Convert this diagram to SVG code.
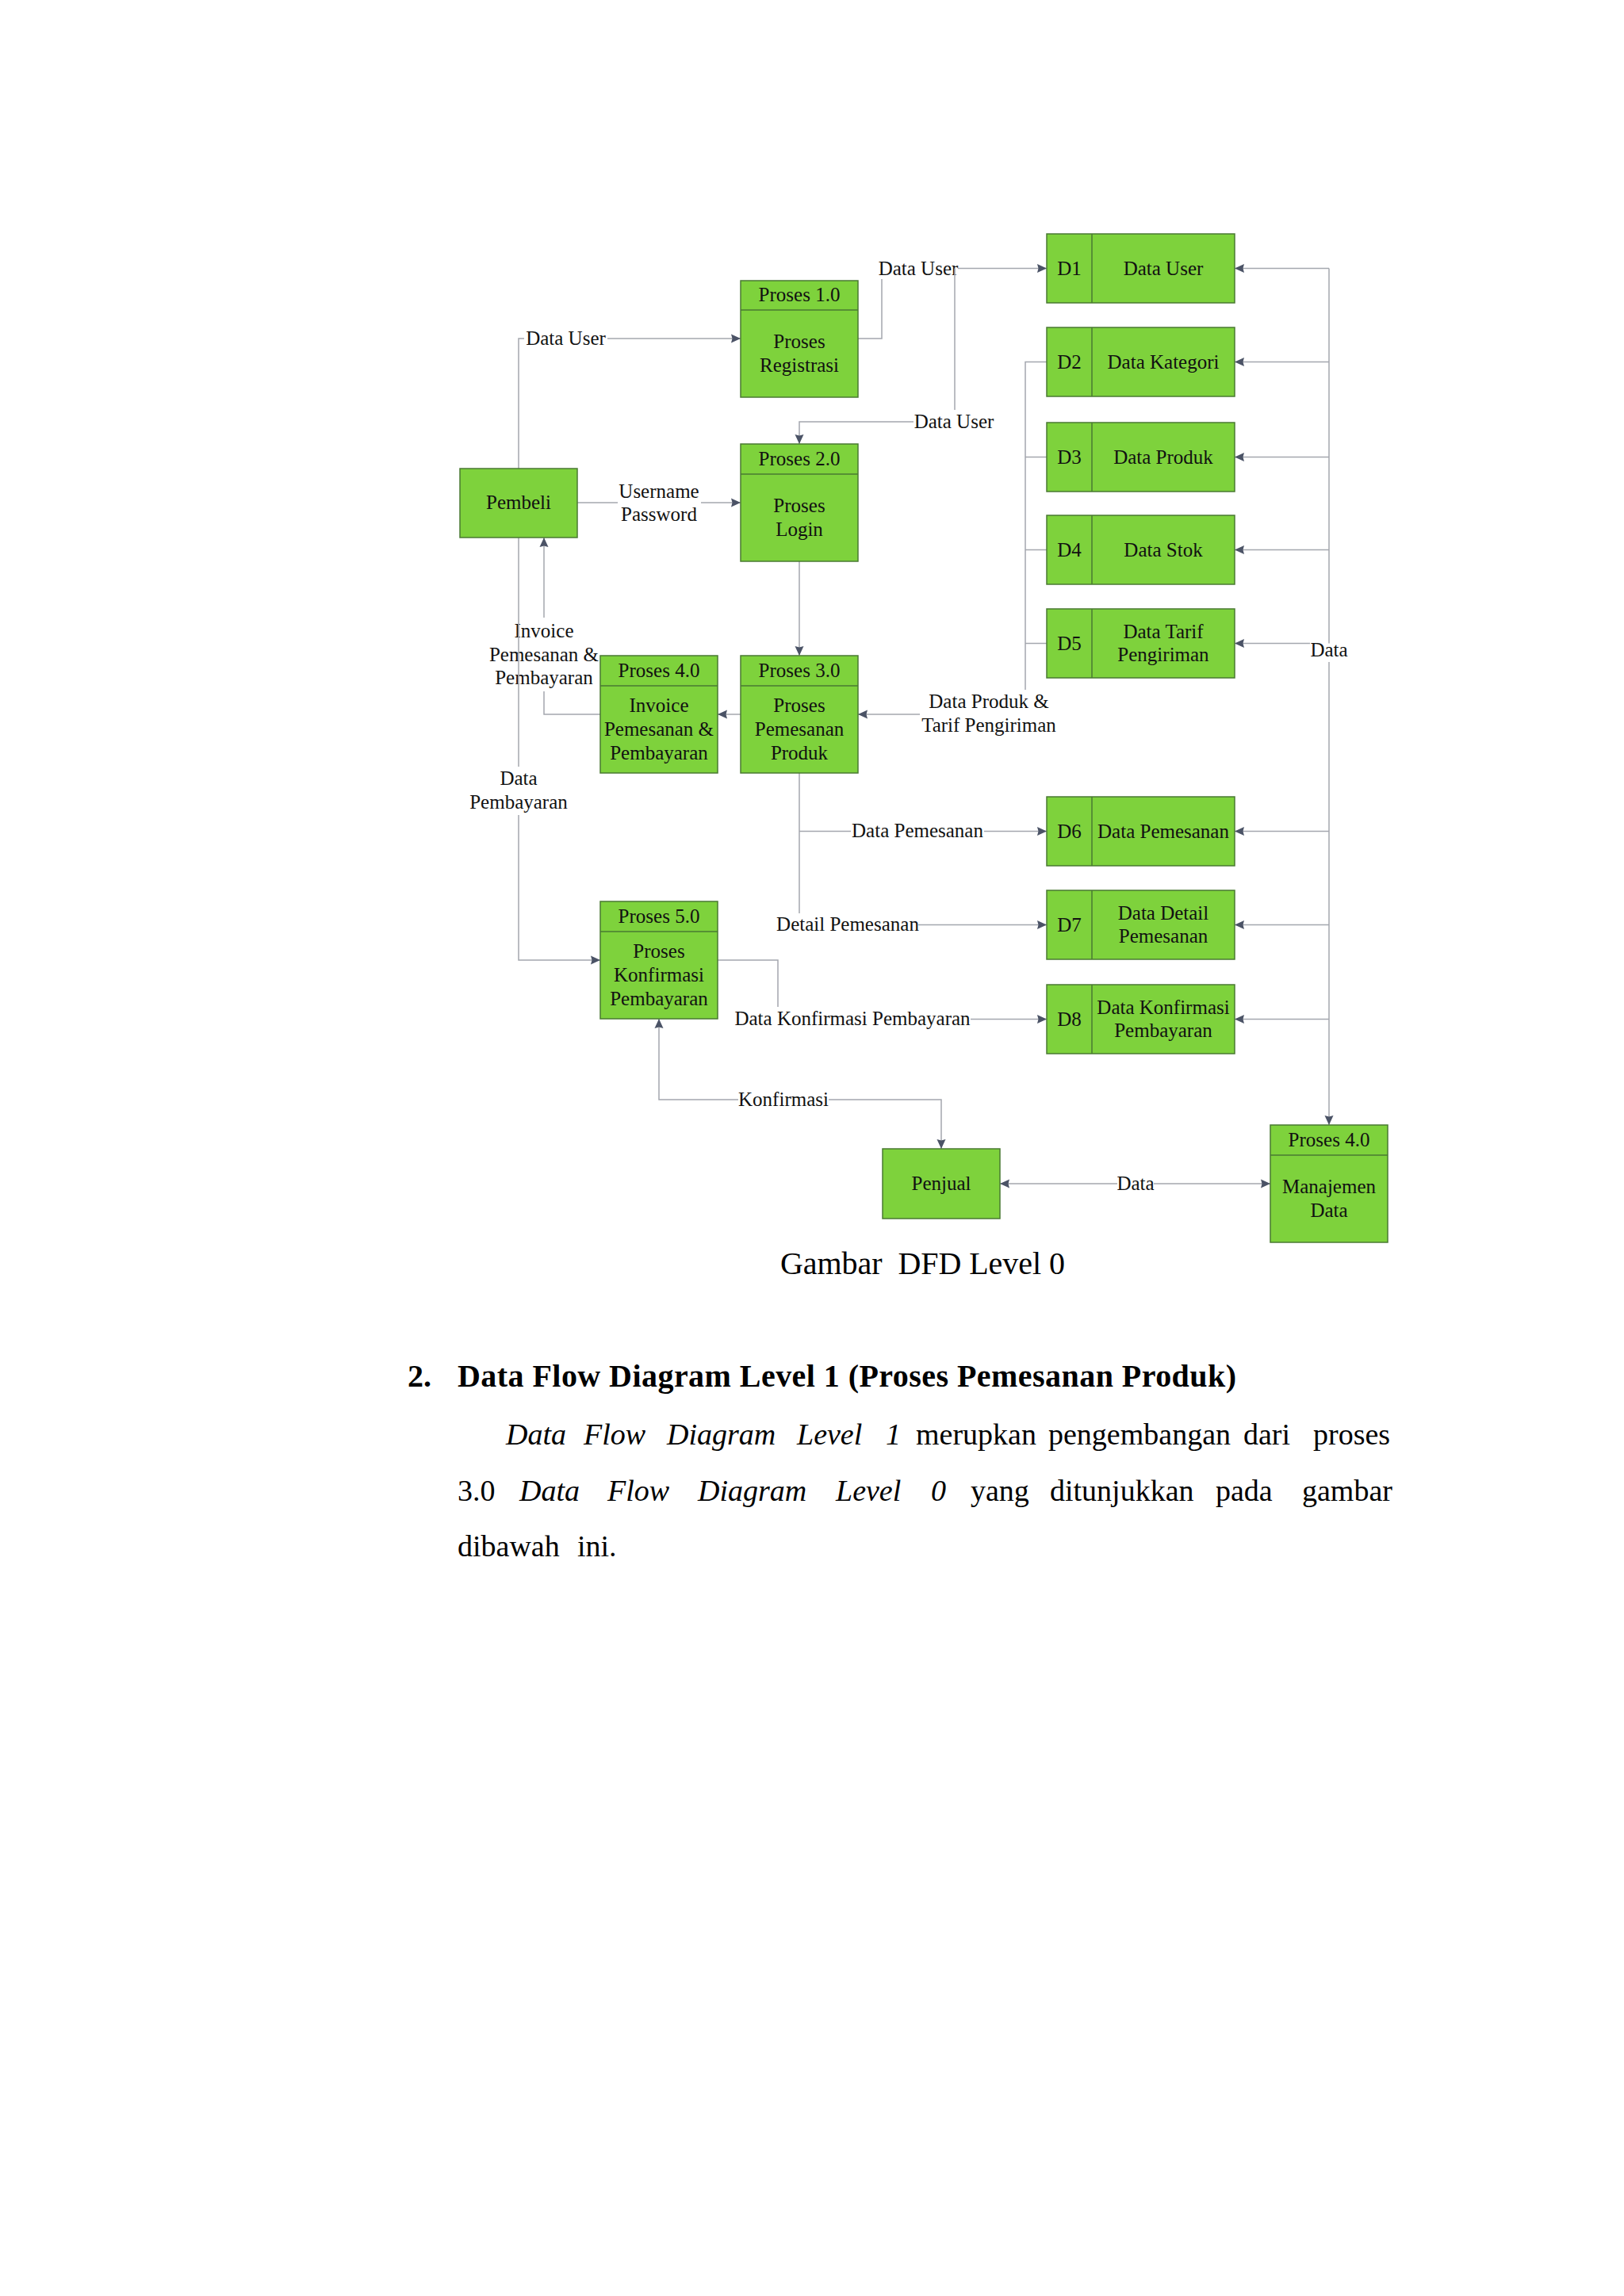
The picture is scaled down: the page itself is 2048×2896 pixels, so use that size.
<svg xmlns="http://www.w3.org/2000/svg" width="2048" height="2896" viewBox="0 0 2048 2896">
<style>
.ln{fill:none;stroke:#a4a7ae;stroke-width:1.5}
.ar{marker-end:url(#arr)}
.as{marker-start:url(#arr)}
.bx{fill:#7ed23c;stroke:#4a7a32;stroke-width:1.5}
.dv{stroke:#4a7a32;stroke-width:1.5}
.t{font-family:"Liberation Serif","Times New Roman",serif;font-size:25px;fill:#111;text-anchor:middle}
.b{font-family:"Liberation Serif","Times New Roman",serif;font-size:40px;fill:#000}
.p{font-family:"Liberation Serif","Times New Roman",serif;font-size:38px;fill:#000}
.i{font-style:italic}
</style>
<defs>
<marker id="arr" markerUnits="userSpaceOnUse" markerWidth="12" markerHeight="12" viewBox="0 0 12 12" refX="12" refY="6" orient="auto-start-reverse">
<path d="M0,0.5 L12,6 L0,11.5 L1.5,6 z" fill="#4b5366"/>
</marker>
</defs>
<rect width="2048" height="2896" fill="#ffffff"/>

<g id="connectors">
<path class="ln" d="M654,591 V427 H661"/>
<path class="ln ar" d="M766,427 H934"/>
<text class="t" x="713.5" y="435">Data User</text>

<path class="ln" d="M728,634 H779"/>
<path class="ln ar" d="M884,634 H934"/>
<text class="t" x="831" y="628">Username</text>
<text class="t" x="831" y="657">Password</text>

<path class="ln" d="M1082,427 H1112 V352"/>
<text class="t" x="1158" y="347">Data User</text>
<path class="ln ar" d="M1208,338.5 H1320"/>

<path class="ln" d="M1204,338.5 V517"/>
<text class="t" x="1203" y="540">Data User</text>
<path class="ln ar" d="M1152,532 H1008 V560"/>

<path class="ln ar" d="M1008,708 V827"/>
<path class="ln ar" d="M934,901 H905"/>

<path class="ln" d="M757,901 H686 V872"/>
<text class="t" x="686" y="804">Invoice</text>
<text class="t" x="686" y="834">Pemesanan &amp;</text>
<text class="t" x="686" y="863">Pembayaran</text>
<path class="ln ar" d="M686,779 V678"/>

<path class="ln" d="M654,678 V967"/>
<text class="t" x="654" y="990">Data</text>
<text class="t" x="654" y="1020">Pembayaran</text>
<path class="ln ar" d="M654,1028 V1211 H757"/>

<path class="ln" d="M1320,456.5 H1293 V870"/>
<path class="ln" d="M1320,576.5 H1293"/>
<path class="ln" d="M1320,693.5 H1293"/>
<path class="ln" d="M1320,811.5 H1293"/>
<text class="t" x="1247" y="893">Data Produk &amp;</text>
<text class="t" x="1247" y="923">Tarif Pengiriman</text>
<path class="ln ar" d="M1160,901 H1082"/>

<path class="ln" d="M1008,975 V1152"/>
<text class="t" x="1069" y="1174">Detail Pemesanan</text>
<path class="ln ar" d="M1158,1166.5 H1320"/>
<path class="ln" d="M1008,1048.5 H1073"/>
<text class="t" x="1157" y="1056">Data Pemesanan</text>
<path class="ln ar" d="M1241,1048.5 H1320"/>

<path class="ln" d="M905,1211 H981 V1270"/>
<text class="t" x="1075" y="1293">Data Konfirmasi Pembayaran</text>
<path class="ln ar" d="M1224,1285.5 H1320"/>

<path class="ln as" d="M831,1285 V1387 H931"/>
<text class="t" x="988" y="1395">Konfirmasi</text>
<path class="ln ar" d="M1045,1387 H1187 V1449"/>

<path class="ln as" d="M1261,1493 H1409"/>
<text class="t" x="1432" y="1501">Data</text>
<path class="ln ar" d="M1455,1493 H1602"/>

<path class="ln" d="M1676,338.5 V811.5"/>
<text class="t" x="1676" y="828">Data</text>
<path class="ln ar" d="M1676,835 V1419"/>
<path class="ln ar" d="M1676,338.5 H1557"/>
<path class="ln ar" d="M1676,456.5 H1557"/>
<path class="ln ar" d="M1676,576.5 H1557"/>
<path class="ln ar" d="M1676,693.5 H1557"/>
<path class="ln ar" d="M1652,811.5 H1557"/>
<path class="ln ar" d="M1676,1048.5 H1557"/>
<path class="ln ar" d="M1676,1166.5 H1557"/>
<path class="ln ar" d="M1676,1285.5 H1557"/>
</g>

<g id="pembeli">
<rect class="bx" x="580" y="591" width="148" height="87"/>
<text class="t" x="654" y="642">Pembeli</text>
</g>
<g id="proses1">
<rect class="bx" x="934" y="354" width="148" height="147"/>
<line class="dv" x1="934" y1="391" x2="1082" y2="391"/>
<text class="t" x="1008" y="380">Proses 1.0</text>
<text class="t" x="1008" y="439">Proses</text>
<text class="t" x="1008" y="469">Registrasi</text>
</g>
<g id="proses2">
<rect class="bx" x="934" y="560" width="148" height="148"/>
<line class="dv" x1="934" y1="598" x2="1082" y2="598"/>
<text class="t" x="1008" y="587">Proses 2.0</text>
<text class="t" x="1008" y="646">Proses</text>
<text class="t" x="1008" y="676">Login</text>
</g>
<g id="proses3">
<rect class="bx" x="934" y="827" width="148" height="148"/>
<line class="dv" x1="934" y1="865" x2="1082" y2="865"/>
<text class="t" x="1008" y="854">Proses 3.0</text>
<text class="t" x="1008" y="898">Proses</text>
<text class="t" x="1008" y="928">Pemesanan</text>
<text class="t" x="1008" y="958">Produk</text>
</g>
<g id="proses4-invoice">
<rect class="bx" x="757" y="827" width="148" height="148"/>
<line class="dv" x1="757" y1="865" x2="905" y2="865"/>
<text class="t" x="831" y="854">Proses 4.0</text>
<text class="t" x="831" y="898">Invoice</text>
<text class="t" x="831" y="928">Pemesanan &amp;</text>
<text class="t" x="831" y="958">Pembayaran</text>
</g>
<g id="proses5">
<rect class="bx" x="757" y="1137" width="148" height="148"/>
<line class="dv" x1="757" y1="1175" x2="905" y2="1175"/>
<text class="t" x="831" y="1164">Proses 5.0</text>
<text class="t" x="831" y="1208">Proses</text>
<text class="t" x="831" y="1238">Konfirmasi</text>
<text class="t" x="831" y="1268">Pembayaran</text>
</g>
<g id="penjual">
<rect class="bx" x="1113" y="1449" width="148" height="88"/>
<text class="t" x="1187" y="1501">Penjual</text>
</g>
<g id="manajemen">
<rect class="bx" x="1602" y="1419" width="148" height="148"/>
<line class="dv" x1="1602" y1="1457" x2="1750" y2="1457"/>
<text class="t" x="1676" y="1446">Proses 4.0</text>
<text class="t" x="1676" y="1505">Manajemen</text>
<text class="t" x="1676" y="1535">Data</text>
</g>

<g id="d1">
<rect class="bx" x="1320" y="295" width="237" height="87"/>
<line class="dv" x1="1377" y1="295" x2="1377" y2="382"/>
<text class="t" x="1348.5" y="346.5">D1</text>
<text class="t" x="1467" y="346.5">Data User</text>
</g>
<g id="d2">
<rect class="bx" x="1320" y="413" width="237" height="87"/>
<line class="dv" x1="1377" y1="413" x2="1377" y2="500"/>
<text class="t" x="1348.5" y="464.5">D2</text>
<text class="t" x="1467" y="464.5">Data Kategori</text>
</g>
<g id="d3">
<rect class="bx" x="1320" y="533" width="237" height="87"/>
<line class="dv" x1="1377" y1="533" x2="1377" y2="620"/>
<text class="t" x="1348.5" y="584.5">D3</text>
<text class="t" x="1467" y="584.5">Data Produk</text>
</g>
<g id="d4">
<rect class="bx" x="1320" y="650" width="237" height="87"/>
<line class="dv" x1="1377" y1="650" x2="1377" y2="737"/>
<text class="t" x="1348.5" y="701.5">D4</text>
<text class="t" x="1467" y="701.5">Data Stok</text>
</g>
<g id="d5">
<rect class="bx" x="1320" y="768" width="237" height="87"/>
<line class="dv" x1="1377" y1="768" x2="1377" y2="855"/>
<text class="t" x="1348.5" y="819.5">D5</text>
<text class="t" x="1467" y="805">Data Tarif</text>
<text class="t" x="1467" y="834">Pengiriman</text>
</g>
<g id="d6">
<rect class="bx" x="1320" y="1005" width="237" height="87"/>
<line class="dv" x1="1377" y1="1005" x2="1377" y2="1092"/>
<text class="t" x="1348.5" y="1056.5">D6</text>
<text class="t" x="1467" y="1056.5">Data Pemesanan</text>
</g>
<g id="d7">
<rect class="bx" x="1320" y="1123" width="237" height="87"/>
<line class="dv" x1="1377" y1="1123" x2="1377" y2="1210"/>
<text class="t" x="1348.5" y="1174.5">D7</text>
<text class="t" x="1467" y="1160">Data Detail</text>
<text class="t" x="1467" y="1189">Pemesanan</text>
</g>
<g id="d8">
<rect class="bx" x="1320" y="1242" width="237" height="87"/>
<line class="dv" x1="1377" y1="1242" x2="1377" y2="1329"/>
<text class="t" x="1348.5" y="1293.5">D8</text>
<text class="t" x="1467" y="1279">Data Konfirmasi</text>
<text class="t" x="1467" y="1308">Pembayaran</text>
</g>

<g id="page-text">
<text class="b" x="984" y="1607" textLength="359" xml:space="preserve">Gambar  DFD Level 0</text>
<text class="b" x="514" y="1749" font-weight="bold">2.</text>
<text class="b" x="577" y="1749" font-weight="bold" textLength="982">Data Flow Diagram Level 1 (Proses Pemesanan Produk)</text>
<text class="p" y="1822"><tspan class="i" x="638">Data</tspan><tspan class="i" x="736">Flow</tspan><tspan class="i" x="841">Diagram</tspan><tspan class="i" x="1005">Level</tspan><tspan class="i" x="1117">1</tspan><tspan x="1155">merupkan</tspan><tspan x="1322">pengembangan</tspan><tspan x="1568">dari</tspan><tspan x="1656">proses</tspan></text>
<text class="p" y="1893"><tspan x="577">3.0</tspan><tspan class="i" x="655">Data</tspan><tspan class="i" x="766">Flow</tspan><tspan class="i" x="880">Diagram</tspan><tspan class="i" x="1054">Level</tspan><tspan class="i" x="1174">0</tspan><tspan x="1224">yang</tspan><tspan x="1324">ditunjukkan</tspan><tspan x="1533">pada</tspan><tspan x="1642">gambar</tspan></text>
<text class="p" y="1963"><tspan x="577">dibawah</tspan><tspan x="728">ini.</tspan></text>
</g>
</svg>
